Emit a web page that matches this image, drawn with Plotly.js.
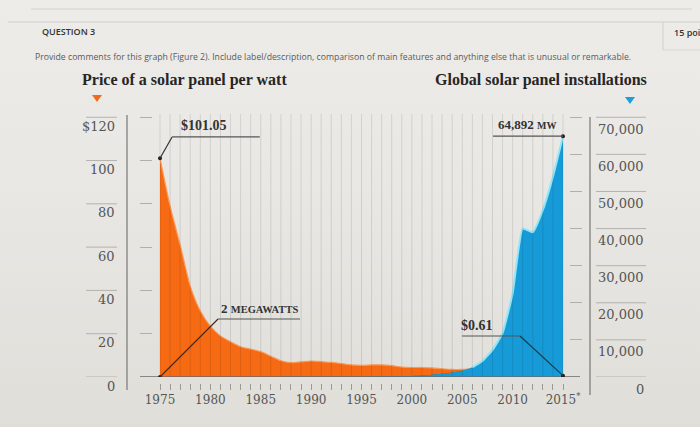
<!DOCTYPE html>
<html>
<head>
<meta charset="utf-8">
<script src="https://cdn.plot.ly/plotly-3.0.1.min.js"></script>
<style>
  html, body { margin: 0; padding: 0; }
  body {
    width: 700px; height: 427px; overflow: hidden;
    background: linear-gradient(180deg, #edece9 0%, #e8e7e3 45%, #dfded9 100%);
  }
  #chart { width: 700px; height: 427px; }
</style>
</head>
<body>
<div id="chart"></div>
<script>
// Years on the horizontal axis
const years = [1975, 1976, 1977, 1978, 1979, 1980, 1981, 1982, 1983, 1984,
               1985, 1986, 1987, 1988, 1989, 1990, 1991, 1992, 1993, 1994,
               1995, 1996, 1997, 1998, 1999, 2000, 2001, 2002, 2003, 2004,
               2005, 2006, 2007, 2008, 2009, 2010, 2011, 2012, 2013, 2014, 2015];

// Price of a solar panel per watt (US$)
const price = [101.05, 79, 61, 42, 30.5, 23.5, 19, 16.3, 14, 12.9,
               11.7, 9.6, 7.5, 6.6, 7.0, 7.4, 7.1, 6.8, 6.2, 5.6,
               5.4, 5.6, 5.6, 5.3, 4.6, 4.4, 4.4, 4.2, 3.8, 3.5,
               3.5, 3.7, 3.7, 2.7, 1.5, 1.0, 0.8, 0.7, 0.65, 0.63, 0.61];

// Global solar panel installations (MW)
const installs = [2, 3, 4, 5, 6, 8, 10, 13, 17, 20,
                  23, 26, 29, 34, 40, 46, 55, 57, 60, 70,
                  78, 90, 125, 155, 200, 280, 400, 600, 850, 1200,
                  1700, 2600, 4300, 7300, 11800, 22500, 40000, 39000, 45000, 54000, 64892];

// Axis ticks and labels
const priceTicks = [0, 20, 40, 60, 80, 100, 120];
const priceTickText = ['0', '20', '40', '60', '80', '100', '$120'];
const installTicks = [0, 10000, 20000, 30000, 40000, 50000, 60000, 70000];
const installTickText = ['0', '10,000', '20,000', '30,000', '40,000', '50,000', '60,000', '70,000'];
const labelYears = [1975, 1980, 1985, 1990, 1995, 2000, 2005, 2010, 2015];
const labelYearText = ['1975', '1980', '1985', '1990', '1995', '2000', '2005', '2010', '2015<sup>*</sup>'];

// Frame geometry (pixels of the 700x427 page)
const W = 700, H = 427;
const PX = v => v / W;
const PY = v => 1 - v / H;
const Y1_MAX = 121.5;
const Y2_MAX = Y1_MAX * 70000 / 120;
const toPrice = mw => mw * Y1_MAX / Y2_MAX;

const ORANGE = '#f66a14';
const BLUE = '#169bd8';
const OLIVE = '#66652f';
const TICK_FONT = { family: 'DejaVu Serif', size: 13, color: '#555' };
const LABEL_FONT = { family: 'Liberation Serif', size: 14, color: '#333', weight: 700 };

// Where both areas overlap the colours mix
const overlap = price.map((p, i) => Math.min(p, toPrice(installs[i])));
const edgeFrom = years.indexOf(2006);

const traces = [
  { x: years, y: price, type: 'scatter', mode: 'lines', fill: 'tozeroy',
    fillcolor: ORANGE, line: { color: '#f99a5a', width: 1.2, shape: 'spline', smoothing: 0.6 },
    hoverinfo: 'skip' },
  { x: years, y: installs, yaxis: 'y2', type: 'scatter', mode: 'lines', fill: 'tozeroy',
    fillcolor: BLUE, line: { width: 0, shape: 'spline', smoothing: 0.4 }, hoverinfo: 'skip' },
  { x: years, y: overlap, type: 'scatter', mode: 'lines', fill: 'tozeroy',
    fillcolor: OLIVE, line: { width: 0, shape: 'spline', smoothing: 0.4 }, hoverinfo: 'skip' },
  { x: years.slice(edgeFrom), y: installs.slice(edgeFrom), yaxis: 'y2', type: 'scatter', mode: 'lines',
    line: { color: '#8fe6f8', width: 2, shape: 'spline', smoothing: 0.4 }, hoverinfo: 'skip' }
];

const shapes = [];
const annotations = [];
const line = (o) => shapes.push(Object.assign({ type: 'line', layer: 'above' }, o));

// Page header rules
line({ xref: 'paper', yref: 'paper', x0: PX(31), x1: PX(692), y0: PY(9), y1: PY(9), line: { color: '#d3d2ce', width: 1 } });
line({ xref: 'paper', yref: 'paper', x0: PX(8), x1: PX(700), y0: PY(22), y1: PY(22), line: { color: '#d0cfcb', width: 1 } });
line({ xref: 'paper', yref: 'paper', x0: PX(663), x1: PX(663), y0: PY(22), y1: PY(50), line: { color: '#d0cfcb', width: 1 } });
line({ xref: 'paper', yref: 'paper', x0: PX(663), x1: PX(700), y0: PY(50), y1: PY(50), line: { color: '#d8d7d3', width: 1 } });

// Vertical frame lines beside each scale
line({ xref: 'paper', yref: 'paper', x0: PX(127), x1: PX(127), y0: PY(115), y1: PY(390), line: { color: '#777', width: 1.2 } });
line({ xref: 'paper', yref: 'paper', x0: PX(590), x1: PX(590), y0: PY(117), y1: PY(395), line: { color: '#777', width: 1.2 } });

// Year grid drawn over the areas
years.forEach(y => line({ xref: 'x', yref: 'y domain', x0: y, x1: y, y0: 0, y1: 1,
  line: { color: 'rgba(0,0,0,0.1)', width: 1 } }));

// Baseline
line({ xref: 'paper', yref: 'y', x0: PX(140), x1: PX(580), y0: 0, y1: 0, line: { color: '#6a6a6a', width: 1.5 } });

// Rules over the tick labels, and the labels themselves
priceTicks.forEach((v, i) => {
  line({ xref: 'paper', yref: 'y', x0: PX(86), x1: PX(117), y0: v, y1: v, line: { color: '#b3b2ae', width: 1 } });
  annotations.push({ xref: 'paper', yref: 'y', x: PX(117), y: v, xanchor: 'right', yanchor: 'middle',
    yshift: -9, text: priceTickText[i], showarrow: false, font: TICK_FONT });
});
installTicks.forEach((v, i) => {
  line({ xref: 'paper', yref: 'y2', x0: PX(596), x1: PX(646), y0: v, y1: v, line: { color: '#b3b2ae', width: 1 } });
  annotations.push({ xref: 'paper', yref: 'y2', x: PX(646), y: v, xanchor: 'right', yanchor: 'middle',
    yshift: -12, text: installTickText[i], showarrow: false, font: TICK_FONT });
});

// Marker triangles under the two headings
const tri = (cx, cy, color) => shapes.push({ type: 'path', xref: 'paper', yref: 'paper', layer: 'above',
  path: `M ${PX(cx - 5)} ${PY(cy - 4)} L ${PX(cx + 5)} ${PY(cy - 4)} L ${PX(cx)} ${PY(cy + 3)} Z`,
  fillcolor: color, line: { width: 0 } });
tri(97, 99, '#f26a1f');
tri(630, 101, '#1aa0dc');

// Callout dots
const dot = (x, y, yref) => shapes.push({ type: 'circle', xref: 'x', yref: yref, layer: 'above',
  xsizemode: 'pixel', ysizemode: 'pixel', xanchor: x, yanchor: y, x0: -2, x1: 2, y0: -2, y1: 2,
  fillcolor: '#222', line: { width: 0 } });
const LEAD = { color: '#555', width: 1.2 };
const last = years.length - 1;

// First price
dot(years[0], price[0], 'y');
line({ xref: 'x', yref: 'y', x0: years[0], y0: price[0], x1: 1976.2, y1: 110.9, line: { color: '#333', width: 1.2 } });
line({ xref: 'x', yref: 'y', x0: 1976.2, y0: 110.9, x1: 1984.9, y1: 110.9, line: LEAD });
annotations.push({ xref: 'x', yref: 'y', x: 1979.4, y: 110.9, yanchor: 'bottom', yshift: 2,
  text: '$' + price[0].toFixed(2), showarrow: false, font: LABEL_FONT });

// First installations
dot(years[0], installs[0], 'y2');
line({ xref: 'x', yref: 'y', x0: years[0], y0: toPrice(installs[0]), x1: 1980.76, y1: 26.8, line: { color: '#4a2614', width: 1.2 } });
line({ xref: 'x', yref: 'y', x0: 1980.76, y0: 26.8, x1: 1988.9, y1: 26.8, line: LEAD });
annotations.push({ xref: 'x', yref: 'y', x: 1984.83, y: 26.8, yanchor: 'bottom', yshift: 1,
  text: installs[0] + ' <span style="font-size:10.5px">MEGAWATTS</span>', showarrow: false,
  font: Object.assign({}, LABEL_FONT, { size: 13 }) });

// Latest installations
dot(years[last], installs[last], 'y2');
line({ xref: 'x', yref: 'y2', x0: 2008.05, y0: installs[last], x1: years[last], y1: installs[last], line: LEAD });
annotations.push({ xref: 'x', yref: 'y2', x: 2011.4, y: installs[last], yanchor: 'bottom', yshift: 2,
  text: installs[last].toLocaleString('en-US') + ' <span style="font-size:10px">MW</span>', showarrow: false,
  font: Object.assign({}, LABEL_FONT, { size: 13 }) });

// Latest price
dot(years[last], price[last], 'y');
line({ xref: 'x', yref: 'y', x0: 2004.98, y0: 18.94, x1: 2010.73, y1: 18.94, line: LEAD });
line({ xref: 'x', yref: 'y', x0: 2010.73, y0: 18.94, x1: years[last], y1: price[last], line: { color: '#1e3a48', width: 1.2 } });
annotations.push({ xref: 'x', yref: 'y', x: 2006.46, y: 18.94, yanchor: 'bottom', yshift: 1,
  text: '$' + price[last].toFixed(2), showarrow: false, font: LABEL_FONT });

// Page header text
const SANS = 'Open Sans';
annotations.push(
  { xref: 'paper', yref: 'paper', x: PX(40), y: PY(32), xanchor: 'left', yanchor: 'middle', showarrow: false,
    text: 'QUESTION 3', font: { family: SANS, size: 9, color: '#333', weight: 600 } },
  { xref: 'paper', yref: 'paper', x: PX(672), y: PY(33), xanchor: 'left', yanchor: 'middle', showarrow: false,
    text: '15 poi', font: { family: SANS, size: 9, color: '#333', weight: 600 } },
  { xref: 'paper', yref: 'paper', x: PX(33), y: PY(57), xanchor: 'left', yanchor: 'middle', showarrow: false,
    text: 'Provide comments for this graph (Figure 2). Include label/description, comparison of main features and anything else that is unusual or remarkable.',
    font: { family: SANS, size: 8.7, color: '#5a5a5a' } },
  { xref: 'paper', yref: 'paper', x: PX(184), y: PY(80), xanchor: 'center', yanchor: 'middle', showarrow: false,
    text: 'Price of a solar panel per watt', font: { family: 'Liberation Serif', size: 16, color: '#262626', weight: 700 } },
  { xref: 'paper', yref: 'paper', x: PX(541), y: PY(80), xanchor: 'center', yanchor: 'middle', showarrow: false,
    text: 'Global solar panel installations', font: { family: 'Liberation Serif', size: 16, color: '#262626', weight: 700 } }
);

const layout = {
  width: W, height: H,
  margin: { l: 0, r: 0, t: 0, b: 0 },
  paper_bgcolor: 'rgba(0,0,0,0)',
  plot_bgcolor: 'rgba(0,0,0,0)',
  showlegend: false,
  xaxis: {
    domain: [PX(140), PX(582)],
    range: [1975 - 20 / 10.075, 1975 + 422 / 10.075],
    anchor: 'free', position: PY(383),
    tickmode: 'array', tickvals: years,
    ticktext: years.map(y => { const i = labelYears.indexOf(y); return i >= 0 ? labelYearText[i] : ''; }),
    ticks: 'outside', ticklen: 6, tickwidth: 1, tickcolor: '#9a9995',
    tickfont: { family: 'DejaVu Serif', size: 12, color: '#555' },
    showgrid: false, zeroline: false, showline: false, fixedrange: true
  },
  yaxis: {
    domain: [PY(377), PY(114)],
    range: [0, Y1_MAX],
    tickmode: 'array', tickvals: priceTicks,
    ticks: 'inside', ticklen: 12, tickwidth: 1, tickcolor: '#b0afab',
    showticklabels: false, showgrid: false, zeroline: false, showline: false, fixedrange: true
  },
  yaxis2: {
    overlaying: 'y', side: 'right', anchor: 'x',
    range: [0, Y2_MAX],
    tickmode: 'array', tickvals: installTicks,
    ticks: 'inside', ticklen: 12, tickwidth: 1, tickcolor: '#b0afab',
    showticklabels: false, showgrid: false, zeroline: false, showline: false, fixedrange: true
  },
  shapes: shapes,
  annotations: annotations
};

Plotly.newPlot('chart', traces, layout, { staticPlot: true, displayModeBar: false });
</script>
</body>
</html>
